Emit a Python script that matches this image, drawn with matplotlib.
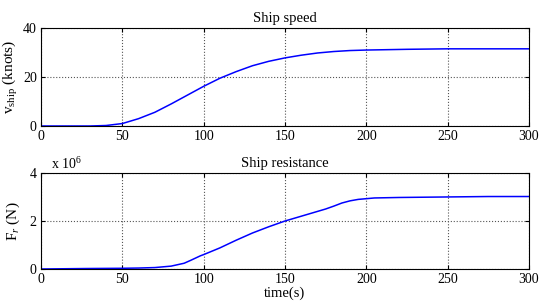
import numpy as np
import matplotlib.pyplot as plt

plt.rcParams['font.family'] = ['Liberation Serif', 'DejaVu Serif']
plt.rcParams['mathtext.fontset'] = 'custom'
plt.rcParams['mathtext.rm'] = 'Liberation Serif'
plt.rcParams['mathtext.it'] = 'Liberation Serif:italic'

# ship speed (knots) vs time (s)
t_speed = [0, 30, 40, 50, 60, 70, 80, 90, 100, 110, 120, 130, 140, 150,
           160, 170, 180, 190, 200, 225, 250, 300]
v_speed = [0, 0, 0.2, 1.0, 3.0, 5.6, 9.0, 12.6, 16.2, 19.5, 22.2, 24.6, 26.4, 27.8,
           28.9, 29.8, 30.4, 30.8, 31.0, 31.3, 31.5, 31.5]

# ship resistance (x 1e6 N) vs time (s)
t_res = [0, 28, 50, 60, 70, 80, 88, 92, 98, 100, 110, 120, 130, 140, 150,
         160, 170, 175, 180, 185, 190, 195, 200, 205, 220, 275, 300]
f_res = [0, 0.02, 0.03, 0.04, 0.06, 0.12, 0.24, 0.36, 0.55, 0.6, 0.88, 1.2, 1.5, 1.76, 2.0,
         2.2, 2.4, 2.5, 2.62, 2.75, 2.84, 2.9, 2.93, 2.96, 2.98, 3.02, 3.02]

xticks = [0, 50, 100, 150, 200, 250, 300]

fig = plt.figure(figsize=(5.5, 3.07), dpi=100)
ax1 = fig.add_axes([41 / 550, 1 - 126 / 307, 488 / 550, 98 / 307])
ax2 = fig.add_axes([41 / 550, 1 - 269 / 307, 488 / 550, 96 / 307])

for ax in (ax1, ax2):
    ax.set_xlim(0, 300)
    ax.set_xticks(xticks)
    ax.grid(True, linestyle=':', color='#555555', linewidth=0.8)
    ax.tick_params(direction='in', top=True, right=True, labelsize=10, length=3, pad=3)
    for s in ax.spines.values():
        s.set_linewidth(0.8)

ax1.plot(t_speed, v_speed, color='blue', linewidth=1.1)
ax1.set_ylim(0, 40)
ax1.set_yticks([0, 20, 40])
ax1.set_title('Ship speed', fontsize=10.5, pad=4)
ax1.set_ylabel(r'v$_{\rm ship}$ (knots)', fontsize=11, labelpad=2)

ax2.plot(t_res, f_res, color='blue', linewidth=1.1)
ax2.set_ylim(0, 4)
ax2.set_yticks([0, 2, 4])
ax2.set_title('Ship resistance', fontsize=10.5, pad=4)
ax2.set_ylabel(r'F$_{\it r}$ (N)', fontsize=11, labelpad=6)
ax2.set_xlabel('time(s)', fontsize=10.5, labelpad=0)
ax2.text(0.02, 1.01, r'x 10$^{6}$', transform=ax2.transAxes, fontsize=10,
         ha='left', va='bottom')

fig.savefig('out.png', dpi=100)
